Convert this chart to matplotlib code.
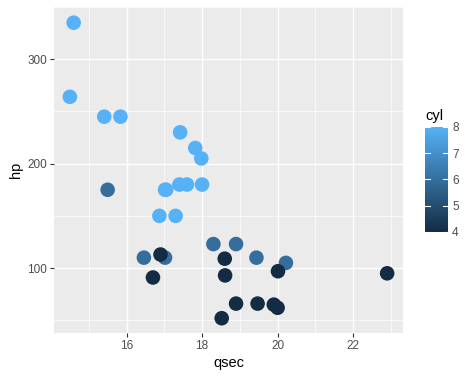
import matplotlib
matplotlib.use("Agg")
import matplotlib.pyplot as plt
from matplotlib.colors import LinearSegmentedColormap
import numpy as np

plt.rcParams['font.family'] = ['Liberation Sans', 'DejaVu Sans']

qsec = [16.46, 17.02, 18.61, 19.44, 17.02, 20.22, 15.84, 20.00, 22.90, 18.30,
        18.90, 17.40, 17.60, 18.00, 17.98, 17.82, 17.42, 19.47, 18.52, 19.90,
        20.01, 16.87, 17.30, 15.41, 17.05, 18.90, 16.70, 16.90, 14.50, 15.50,
        14.60, 18.60]
hp = [110, 110, 93, 110, 175, 105, 245, 62, 95, 123,
      123, 180, 180, 180, 205, 215, 230, 66, 52, 65,
      97, 150, 150, 245, 175, 66, 91, 113, 264, 175,
      335, 109]
cyl = [6, 6, 4, 6, 8, 6, 8, 4, 4, 6,
       6, 8, 8, 8, 8, 8, 8, 4, 4, 4,
       4, 8, 8, 8, 8, 4, 4, 4, 8, 6,
       8, 4]
x_ticks = [16, 18, 20, 22]
y_ticks = [100, 200, 300]
cbar_ticks = [4, 5, 6, 7, 8]

cmap = LinearSegmentedColormap.from_list("gg", ["#132B43", "#56B1F7"])

fig = plt.figure(figsize=(4.74, 3.79), dpi=100)
W, H = 474, 379
ax = fig.add_axes([54 / W, 1 - 333 / H, (403 - 54) / W, (333 - 7) / H])
ax.set_facecolor("#EBEBEB")
for s in ax.spines.values():
    s.set_visible(False)

sc = ax.scatter(qsec, hp, c=cyl, cmap=cmap, vmin=4, vmax=8, s=110,
                linewidths=0, zorder=3)

xr = max(qsec) - min(qsec)
yr = max(hp) - min(hp)
ax.set_xlim(min(qsec) - 0.05 * xr, max(qsec) + 0.05 * xr)
ax.set_ylim(min(hp) - 0.05 * yr, max(hp) + 0.05 * yr)

ax.set_xticks(x_ticks)
ax.set_yticks(y_ticks)
ax.set_xticks([15, 17, 19, 21, 23], minor=True)
ax.set_yticks([50, 150, 250, 350], minor=True)
ax.grid(which="major", color="white", linewidth=1.0, zorder=0)
ax.grid(which="minor", color="white", linewidth=0.5, zorder=0)
ax.set_axisbelow(True)
ax.tick_params(which="major", length=3, color="#333333", labelcolor="#4D4D4D",
               labelsize=8.5, pad=2)
ax.tick_params(which="minor", length=0)
ax.set_xlabel("qsec", fontsize=10.5, color="black", labelpad=3)
ax.set_ylabel("hp", fontsize=10.5, color="black", labelpad=3)

cax = fig.add_axes([425 / W, 1 - 232 / H, (448 - 425) / W, (232 - 127) / H])
cb = fig.colorbar(sc, cax=cax, ticks=cbar_ticks)
cb.outline.set_visible(False)
cax.tick_params(length=0, labelsize=8.5, labelcolor="#4D4D4D", pad=3)
for t in cbar_ticks:
    cax.plot([0, 0.2], [t, t], color="white", lw=0.8, transform=cax.get_yaxis_transform())
    cax.plot([0.8, 1.0], [t, t], color="white", lw=0.8, transform=cax.get_yaxis_transform())
fig.text(425 / W, 1 - 116 / H, "cyl", fontsize=10.5, ha="left", va="center")

fig.savefig("out.png", dpi=100)
